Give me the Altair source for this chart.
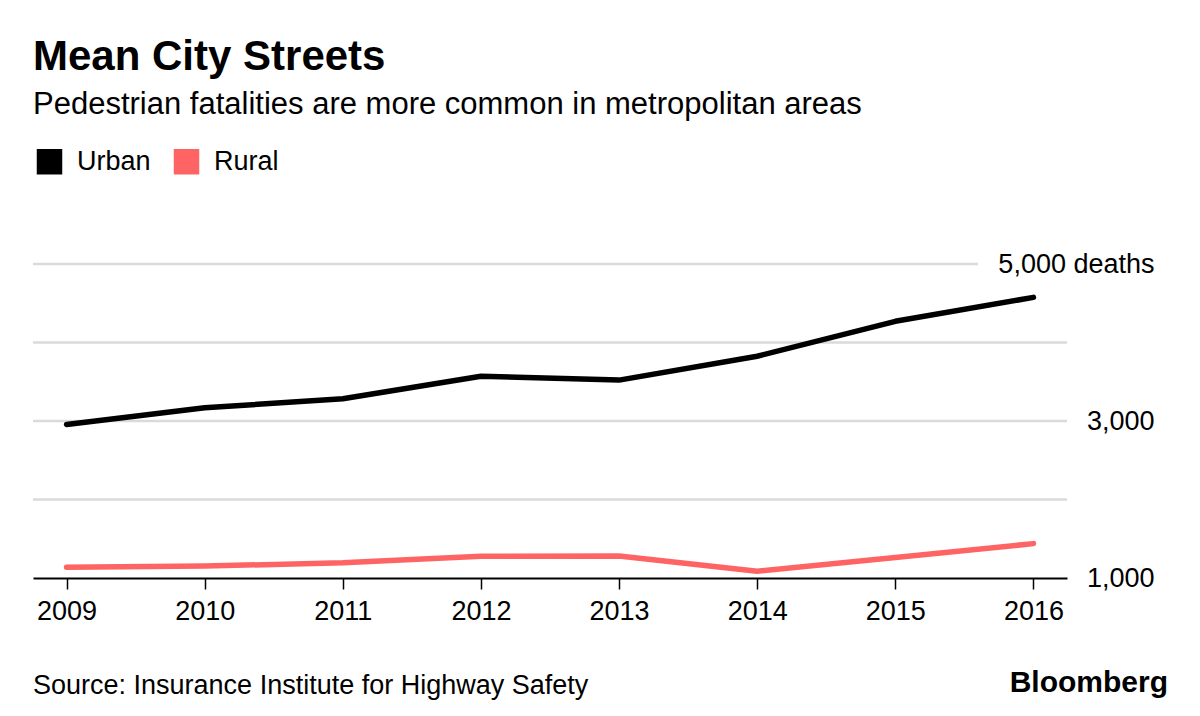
import altair as alt
import pandas as pd

# ---- data ----
years = ["2009", "2010", "2011", "2012", "2013", "2014", "2015", "2016"]
urban = [2955, 3169, 3283, 3571, 3521, 3825, 4270, 4575]
rural = [1137, 1152, 1193, 1277, 1279, 1086, 1260, 1438]
series_names = ["Urban", "Rural"]
series_colors = ["#000000", "#ff6464"]
grid_full = [2000, 3000, 4000]
grid_short = [5000]
y_label_values = [1000, 3000, 5000]

title_text = "Mean City Streets"
subtitle_text = "Pedestrian fatalities are more common in metropolitan areas"
source_text = "Source: Insurance Institute for Highway Safety"
brand_text = "Bloomberg"

FONT = "Liberation Sans"
W, H = 1034, 314

df = pd.DataFrame({
    "year": years * 2,
    "deaths": urban + rural,
    "series": ["Urban"] * len(years) + ["Rural"] * len(years),
})

y_scale = alt.Scale(domain=[1000, 5000], nice=False, zero=False)
y_axis = alt.Axis(
    orient="right", title=None, values=y_label_values,
    labelExpr="datum.value == 5000 ? '5,000 deaths' : format(datum.value, ',')",
    grid=False, domain=False, ticks=False, labelAlign="right",
    labelBaseline="middle", labelPadding=87, labelFont=FONT,
    labelFontSize=27, labelColor="#000000", labelFlush=False,
    labelOverlap=False, labelBound=False,
)

x_enc = alt.X(
    "year:O",
    scale=alt.Scale(type="point", padding=0.243),
    axis=alt.Axis(
        title=None, labelAngle=0, labelFont=FONT, labelFontSize=27,
        labelColor="#000000", labelPadding=9, tickSize=11, tickColor="#000000",
        tickWidth=1.5, domainColor="#000000", domainWidth=2, grid=False,
    ),
)

gridA = alt.Chart(pd.DataFrame({"v": grid_full})).mark_rule(
    color="#dadada", strokeWidth=2.5
).encode(y=alt.Y("v:Q", scale=y_scale, axis=y_axis),
         x=alt.value(0), x2=alt.value(W))

gridB = alt.Chart(pd.DataFrame({"v": grid_short})).mark_rule(
    color="#dadada", strokeWidth=2.5
).encode(y=alt.Y("v:Q", scale=y_scale, axis=y_axis),
         x=alt.value(0), x2=alt.value(945))

legend_def = alt.Legend(
    orient="none", legendX=3, legendY=-116, direction="horizontal",
    title=None, symbolType="square", symbolSize=650, symbolOpacity=1,
    symbolStrokeWidth=0, labelFont=FONT, labelFontSize=27,
    labelColor="#000000", labelOffset=14, columnPadding=22,
)

# one line layer per series, each drawn in its series colour
line_layers = [
    alt.Chart(df).transform_filter(alt.datum.series == name).mark_line(
        color=col, strokeWidth=5.5, strokeCap="round", strokeJoin="round"
    ).encode(
        x=x_enc,
        y=alt.Y("deaths:Q", scale=y_scale, axis=y_axis),
    )
    for name, col in zip(series_names, series_colors)
]

# invisible marks that only carry the colour legend
legend_layer = alt.Chart(df).mark_square(filled=True, opacity=0).encode(
    x=alt.value(0),
    y=alt.value(0),
    color=alt.Color(
        "series:N",
        scale=alt.Scale(domain=series_names, range=series_colors),
        sort=series_names,
        legend=legend_def,
    ),
)

def text_layer(txt, x, y, size, weight="normal", align="left"):
    return alt.Chart(pd.DataFrame({"t": [txt]})).mark_text(
        font=FONT, fontSize=size, fontWeight=weight, align=align,
        baseline="alphabetic", color="#000000",
    ).encode(text="t:N", x=alt.value(x), y=alt.value(y))

title = text_layer(title_text, 0, -194, 42, "bold")
subtitle = text_layer(subtitle_text, 0, -150, 31)
source = text_layer(source_text, 0, 430, 27)
brand = text_layer(brand_text, 1135, 428, 30, "bold", "right")

chart = alt.layer(
    gridA, gridB, *line_layers, legend_layer, title, subtitle, source, brand
).properties(
    width=W, height=H,
    background="#ffffff",
    autosize=alt.AutoSizeParams(type="none"),
    padding={"left": 33, "top": 264, "right": 133, "bottom": 138},
).configure_view(strokeWidth=0, stroke=None)

chart.save("out.html", embed_options={"renderer": "svg", "actions": False})
